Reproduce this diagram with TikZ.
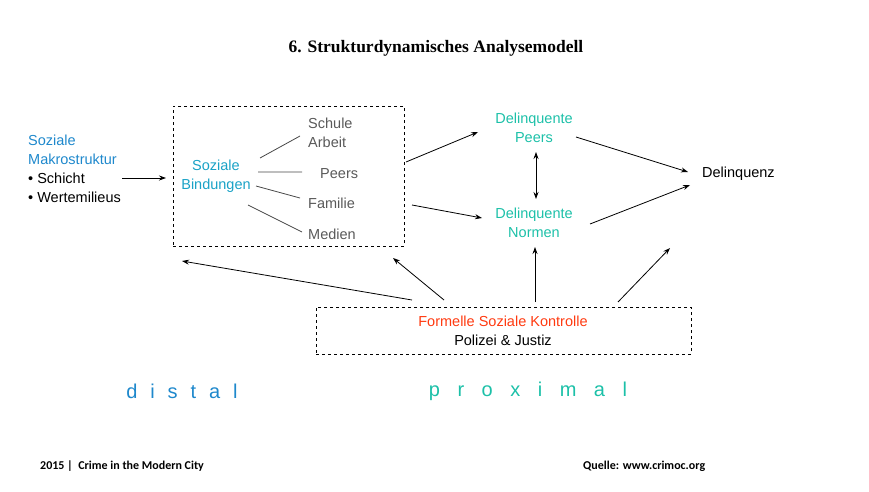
\documentclass[tikz,border=0pt]{standalone}
\usepackage{fontspec}
\setmainfont{Liberation Sans}
\newfontfamily\titlefont{Liberation Serif}
\newfontfamily\footfont{Carlito}
\usetikzlibrary{arrows.meta}
\definecolor{cblue}{HTML}{1E88CC}
\definecolor{cbind}{HTML}{1AA2C6}
\definecolor{cteal}{HTML}{1CC0A8}
\definecolor{cred}{HTML}{FF3A10}
\definecolor{cgray}{HTML}{595959}
\newcommand{\dg}{\hspace{12.9pt}}
\newcommand{\pg}{\hspace{17.5pt}}
\begin{document}
\begin{tikzpicture}[x=1pt,y=-1pt,
  every node/.style={font=\fontsize{14.5}{19}\selectfont,inner sep=0pt},
  arr/.style={-{Stealth[length=7pt,width=5pt]},line width=0.8pt},
  ln/.style={line width=0.8pt},
  box/.style={draw,dashed,line width=0.8pt},
  gr/.style={text=cgray,anchor=west},
  lab/.style={align=center}]
\useasboundingbox (0,0) rectangle (869,491);
\node[font=\titlefont\bfseries\fontsize{17.5}{20}\selectfont] (title) at (436,48) {6. Strukturdynamisches Analysemodell};
\node[anchor=west,align=left] (makro) at (28,169) {\textcolor{cblue}{Soziale}\\\textcolor{cblue}{Makrostruktur}\\• Schicht\\• Wertemilieus};
\node[box,minimum width=231pt,minimum height=140pt] (bbox) at (288.5,176) {};
\node[lab,text=cbind] (bind) at (216,176.5) {Soziale\\Bindungen};
\node[gr] (schule) at (308,134.5) {\begin{tabular}{@{}l@{}}Schule\\Arbeit\end{tabular}};
\node[gr] (peers) at (320,174) {Peers};
\node[gr] (familie) at (308,203) {Familie};
\node[gr] (medien) at (308,234) {Medien};
\coordinate (l1a) at (260,158); \coordinate (l1b) at (300,136);
\coordinate (l2a) at (258,172); \coordinate (l2b) at (302,172);
\coordinate (l3a) at (256,186); \coordinate (l3b) at (300,198);
\coordinate (l4a) at (248,205); \coordinate (l4b) at (302,232);
\draw[ln,cgray!80!black] (l1a)--(l1b) (l2a)--(l2b) (l3a)--(l3b) (l4a)--(l4b);
\node[lab,text=cteal] (dpeers) at (534,127.5) {Delinquente\\Peers};
\node[lab,text=cteal] (dnorm) at (534,222.5) {Delinquente\\Normen};
\node[anchor=west] (delinq) at (702,174) {Delinquenz};
\node[box,minimum width=375pt,minimum height=47pt] (kbox) at (503.5,330.5) {};
\node[lab] (kontr) at (503,330.5) {\textcolor{cred}{Formelle Soziale Kontrolle}\\Polizei \& Justiz};
\node[text=cblue,font=\fontsize{20}{22}\selectfont] (distal) at (182,391) {d\dg i\dg s\dg t\dg a\dg l};
\node[text=cteal,font=\fontsize{20}{22}\selectfont] (prox) at (528,391) {p\pg r\pg o\pg x\pg i\pg m\pg a\pg l};
\node[anchor=west,font=\footfont\bfseries\fontsize{12}{14}\selectfont] (f1) at (40,466) {2015 |\ \ Crime in the Modern City};
\node[anchor=west,font=\footfont\bfseries\fontsize{12}{14}\selectfont] (f2) at (583,466) {Quelle: www.crimoc.org};
\draw[arr] (122,178) -- (166,178);
\draw[arr] (406,162) -- (478,132);
\draw[arr] (412,205) -- (482,218);
\draw[{Stealth[length=7pt,width=5pt]}-{Stealth[length=7pt,width=5pt]},line width=0.8pt] (536,152) -- (536,199);
\draw[arr] (576,137) -- (688,172);
\draw[arr] (590,224) -- (690,185);
\draw[arr] (412,300) -- (182,261);
\draw[arr] (444,300) -- (393,258);
\draw[arr] (535,302) -- (535,247);
\draw[arr] (618,302) -- (670,248);
\end{tikzpicture}
\end{document}
